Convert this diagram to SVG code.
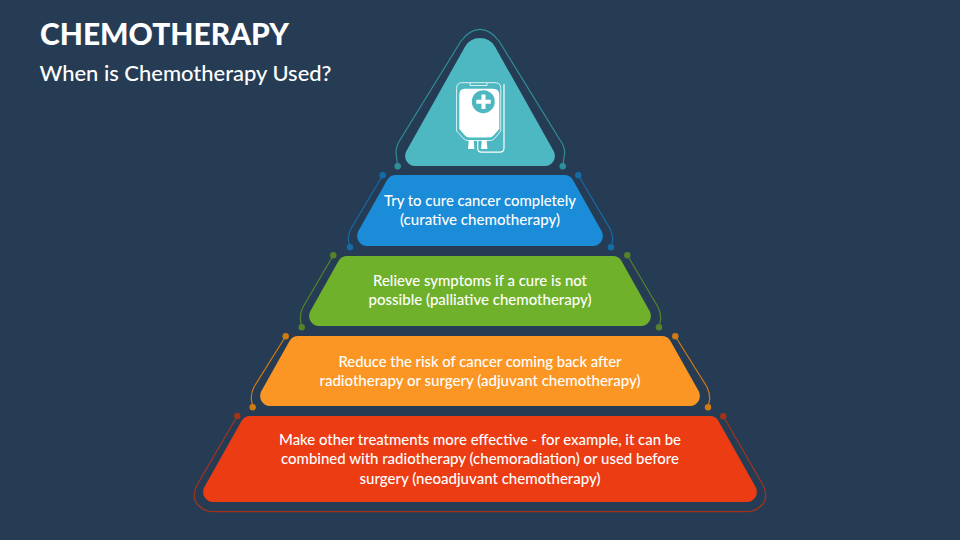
<svg xmlns="http://www.w3.org/2000/svg" width="960" height="540" viewBox="0 0 960 540">
<style>
text{font-family:"Lato","Open Sans",sans-serif;fill:#fff}
.t{font-size:15.2px;font-weight:500;text-anchor:middle}
.c{fill:none;stroke-width:1.2}
.teal{stroke:#2f8f99}.tealf{fill:#2f8f99}
.blue{stroke:#146ba6}.bluef{fill:#146ba6}
.green{stroke:#55832a}.greenf{fill:#55832a}
.orange{stroke:#cf7a12}.orangef{fill:#cf7a12}
.red{stroke:#a5331a}.redf{fill:#a5331a}
</style>
<rect width="960" height="540" fill="#263c55"/>
<text id="title" x="40" y="45" font-size="31" font-weight="900" textLength="249" lengthAdjust="spacingAndGlyphs">CHEMOTHERAPY</text>
<text id="subtitle" x="39.5" y="80.5" font-size="20.5" font-weight="500" textLength="292" lengthAdjust="spacingAndGlyphs">When is Chemotherapy Used?</text>
<g id="connectors">
<path class="c teal" d="M397.7,166 L396,153 Q396,146 400,140 L461,41 Q470,29.3 480,29.3 Q490,29.3 499,41 L560,140 Q564.7,146 564.7,153 L562.7,166"/>
<circle class="tealf" cx="397.7" cy="166.3" r="3.2"/><circle class="tealf" cx="562.7" cy="166.3" r="3.2"/>
<path class="c blue" d="M382.7,175.3 L352,227 Q348,234 348.3,240 L350,247.3"/>
<path class="c blue" d="M578.3,175.3 L609,227 Q613,234 612.7,240 L611,247.3"/>
<circle class="bluef" cx="382.7" cy="175.3" r="3.2"/><circle class="bluef" cx="350" cy="247.3" r="3.2"/><circle class="bluef" cx="578.3" cy="175.3" r="3.2"/><circle class="bluef" cx="611" cy="247.3" r="3.2"/>
<path class="c green" d="M333.3,255.3 L303,307 Q300,313 300.3,319 L301.7,327.3"/>
<path class="c green" d="M627.3,255.3 L658,307 Q661,313 660.7,319 L659,327.3"/>
<circle class="greenf" cx="333.3" cy="255.3" r="3.2"/><circle class="greenf" cx="301.7" cy="327.3" r="3.2"/><circle class="greenf" cx="627.3" cy="255.3" r="3.2"/><circle class="greenf" cx="659" cy="327.3" r="3.2"/>
<path class="c orange" d="M285.7,336.3 L254,387 Q251,393 251.3,399 L252.7,407.3"/>
<path class="c orange" d="M675.3,336.3 L707,387 Q710,393 709.7,399 L708,407.3"/>
<circle class="orangef" cx="285.7" cy="336.3" r="3.2"/><circle class="orangef" cx="252.7" cy="407.3" r="3.2"/><circle class="orangef" cx="675.3" cy="336.3" r="3.2"/><circle class="orangef" cx="708" cy="407.3" r="3.2"/>
<path class="c red" d="M237.3,416 L197,485 Q191,497 198,505 Q204,511.7 214,511.7 L746,511.7 Q756,511.7 762,505 Q769,497 763,485 L723.3,416.3"/>
<circle class="redf" cx="237.3" cy="416" r="3.2"/><circle class="redf" cx="723.3" cy="416.3" r="3.2"/>
</g>
<g id="node-top">
<path fill="#4db8c2" d="M415,166 A10,10 0 0 1 406.4,151.1 L465,46.7 A17.3,17.3 0 0 1 495,46.7 L553.6,151.1 A10,10 0 0 1 545,166 Z"/>
<g id="iv-bag">
<path fill="#fff" d="M465,88.8 H493 Q499.3,88.8 499.3,95 V129 L494,135 Q492,137.5 489,137.5 H469.5 Q466.5,137.5 464.5,135 L459.3,129 V95 Q459.3,88.8 465,88.8 Z"/>
<path fill="none" stroke="#fff" stroke-width="0.8" d="M462,82.7 H495 Q500.8,82.7 500.8,88.5 V131 L495,138 Q493,140.5 490,140.5 H468 Q465,140.5 463,138 L456.6,131 V88.5 Q456.6,82.7 462,82.7 Z M470,82.7 V85.5 H487 V82.7"/>
<circle cx="483.3" cy="101.7" r="11.5" fill="#4db8c2"/>
<path fill="#fff" d="M481.5,94.5 H485.5 V99.7 H490.7 V103.7 H485.5 V108.9 H481.5 V103.7 H476.3 V99.7 H481.5 Z"/>
<path fill="#fff" d="M468.8,140 H473.6 L474.4,149 H468 Z M481.8,140 H486.6 L487.4,149 H481 Z"/>
<path fill="none" stroke="#fff" stroke-width="1.2" d="M504,84.3 V148 Q504,152.2 500,152.2 H481.5 Q477.7,152.2 477.7,148 V140"/>
</g>
</g>
<g id="node-blue">
<path fill="#1a8cd8" d="M367,246 A10,10 0 0 1 358.4,231.1 L387.1,180.1 A10,10 0 0 1 395.8,175 L564.2,175 A10,10 0 0 1 572.9,180.1 L601.6,231.1 A10,10 0 0 1 593,246 Z"/>
<text class="t" x="480" y="206" textLength="192" lengthAdjust="spacingAndGlyphs">Try to cure cancer completely</text>
<text class="t" x="480" y="225" textLength="160" lengthAdjust="spacingAndGlyphs">(curative chemotherapy)</text>
</g>
<g id="node-green">
<path fill="#70b12b" d="M319,326 A10,10 0 0 1 310.4,311.1 L338.5,261.1 A10,10 0 0 1 347.2,256 L612.8,256 A10,10 0 0 1 621.5,261.1 L649.6,311.1 A10,10 0 0 1 641,326 Z"/>
<text class="t" x="480" y="286" textLength="214" lengthAdjust="spacingAndGlyphs">Relieve symptoms if a cure is not</text>
<text class="t" x="480" y="305" textLength="223" lengthAdjust="spacingAndGlyphs">possible (palliative chemotherapy)</text>
</g>
<g id="node-orange">
<path fill="#fb9625" d="M270,406 A10,10 0 0 1 261.4,391.1 L289.5,341.1 A10,10 0 0 1 298.2,336 L661.8,336 A10,10 0 0 1 670.5,341.1 L698.6,391.1 A10,10 0 0 1 690,406 Z"/>
<text class="t" x="480" y="367" textLength="283" lengthAdjust="spacingAndGlyphs">Reduce the risk of cancer coming back after</text>
<text class="t" x="480" y="386" textLength="321" lengthAdjust="spacingAndGlyphs">radiotherapy or surgery (adjuvant chemotherapy)</text>
</g>
<g id="node-red">
<path fill="#eb3c14" d="M213,502 A10,10 0 0 1 204.4,487.1 L241.5,421.1 A10,10 0 0 1 250.2,416 L709.8,416 A10,10 0 0 1 718.5,421.1 L755.6,487.1 A10,10 0 0 1 747,502 Z"/>
<text class="t" x="480" y="445" textLength="402" lengthAdjust="spacingAndGlyphs">Make other treatments more effective - for example, it can be</text>
<text class="t" x="480" y="464" textLength="398" lengthAdjust="spacingAndGlyphs">combined with radiotherapy (chemoradiation) or used before</text>
<text class="t" x="480" y="483.5" textLength="241" lengthAdjust="spacingAndGlyphs">surgery (neoadjuvant chemotherapy)</text>
</g>
</svg>
